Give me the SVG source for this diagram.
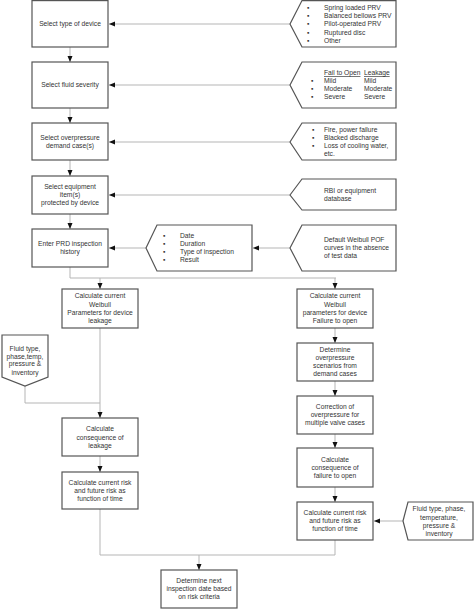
<svg xmlns="http://www.w3.org/2000/svg" width="474" height="610" viewBox="0 0 474 610">
<defs>
<style>
.box{fill:#fff;stroke:#555;stroke-width:1.2}
.ln{fill:none;stroke:#b5b5b5;stroke-width:1}
text{font-family:"Liberation Sans",Arial,sans-serif;font-size:6.7px;fill:#333}
.c{text-anchor:middle}
.u{text-decoration:underline}
</style>
<marker id="ah" viewBox="0 0 6 6" refX="6" refY="3" markerWidth="6" markerHeight="6" markerUnits="userSpaceOnUse" orient="auto">
<path d="M0,0.5 L6,3 L0,5.5 Z" fill="#111"/>
</marker>
</defs>
<rect width="474" height="610" fill="#fff"/>
<g id="connectors">
<path class="ln" d="M290,24 H109" marker-end="url(#ah)"/>
<path class="ln" d="M70,47 V62" marker-end="url(#ah)"/>
<path class="ln" d="M290,85 H109" marker-end="url(#ah)"/>
<path class="ln" d="M70,108 V123" marker-end="url(#ah)"/>
<path class="ln" d="M290,142 H109" marker-end="url(#ah)"/>
<path class="ln" d="M70,160 V176" marker-end="url(#ah)"/>
<path class="ln" d="M290,195 H109" marker-end="url(#ah)"/>
<path class="ln" d="M70,214 V229" marker-end="url(#ah)"/>
<path class="ln" d="M146,248 H109" marker-end="url(#ah)"/>
<path class="ln" d="M290,248 H253" marker-end="url(#ah)"/>
<path class="ln" d="M70,267 V278 H336"/>
<path class="ln" d="M100,278 V289" marker-end="url(#ah)"/>
<path class="ln" d="M335,278 V289" marker-end="url(#ah)"/>
<path class="ln" d="M100,328 V418" marker-end="url(#ah)"/>
<path class="ln" d="M25,386 V403 H100"/>
<path class="ln" d="M335,328 V343" marker-end="url(#ah)"/>
<path class="ln" d="M335,381 V396" marker-end="url(#ah)"/>
<path class="ln" d="M335,434 V448" marker-end="url(#ah)"/>
<path class="ln" d="M335,487 V502" marker-end="url(#ah)"/>
<path class="ln" d="M100,456 V472" marker-end="url(#ah)"/>
<path class="ln" d="M403,521 H374" marker-end="url(#ah)"/>
<path class="ln" d="M100,509 V555 H335 V540"/>
<path class="ln" d="M199,555 V570" marker-end="url(#ah)"/>
</g>
<g id="n1"><rect class="box" x="32" y="0.6" width="76" height="46.4"/>
<text class="c" x="70" y="26.4">Select type of device</text></g>
<g id="n2"><rect class="box" x="32" y="62" width="76" height="46"/>
<text class="c" x="70" y="87.4">Select fluid severity</text></g>
<g id="n3"><rect class="box" x="32" y="123" width="76" height="37"/>
<text class="c" x="70" y="140.1">Select overpressure</text><text class="c" x="70" y="148.4">demand case(s)</text></g>
<g id="n4"><rect class="box" x="32" y="176" width="76" height="38"/>
<text class="c" x="70" y="189.1">Select equipment</text><text class="c" x="70" y="197.1">item(s)</text><text class="c" x="70" y="205.1">protected by device</text></g>
<g id="n5"><rect class="box" x="32" y="229" width="76" height="38"/>
<text class="c" x="70" y="246.4">Enter PRD inspection</text><text class="c" x="70" y="254.4">history</text></g>
<g id="p1"><polygon class="box" points="290,24 302,0.6 396,0.6 396,47 302,47"/>
<text x="307" y="9.7">▪</text><text x="324" y="9.7">Spring loaded PRV</text>
<text x="307" y="18.1">▪</text><text x="324" y="18.1">Balanced bellows PRV</text>
<text x="307" y="26.4">▪</text><text x="324" y="26.4">Pilot-operated PRV</text>
<text x="307" y="34.5">▪</text><text x="324" y="34.5">Ruptured disc</text>
<text x="307" y="42.7">▪</text><text x="324" y="42.7">Other</text></g>
<g id="p2"><polygon class="box" points="290,85 302,62 396,62 396,108 302,108"/>
<text class="u" x="324" y="75.1">Fail to Open</text><text class="u" x="364" y="75.1">Leakage</text>
<text x="311" y="83.1">▪</text><text x="324" y="83.1">Mild</text><text x="364" y="83.1">Mild</text>
<text x="311" y="91.1">▪</text><text x="324" y="91.1">Moderate</text><text x="364" y="91.1">Moderate</text>
<text x="311" y="99.4">▪</text><text x="324" y="99.4">Severe</text><text x="364" y="99.4">Severe</text></g>
<g id="p3"><polygon class="box" points="290,142 302,123 396,123 396,160 302,160"/>
<text x="312" y="131.7">▪</text><text x="324" y="131.7">Fire, power failure</text>
<text x="312" y="140.1">▪</text><text x="324" y="140.1">Blacked discharge</text>
<text x="312" y="148.1">▪</text><text x="324" y="148.1">Loss of cooling water,</text>
<text x="324" y="156.4">etc.</text></g>
<g id="p4"><polygon class="box" points="290,195 302,179 396,179 396,210 302,210"/>
<text x="324" y="193.4">RBI or equipment</text><text x="324" y="201.4">database</text></g>
<g id="p5"><polygon class="box" points="146,248 157,225 252,225 252,271 157,271"/>
<text x="163" y="238.1">▪</text><text x="180" y="238.1">Date</text>
<text x="163" y="246.1">▪</text><text x="180" y="246.1">Duration</text>
<text x="163" y="254.1">▪</text><text x="180" y="254.1">Type of inspection</text>
<text x="163" y="262.1">▪</text><text x="180" y="262.1">Result</text></g>
<g id="p6"><polygon class="box" points="290,248 302,225 396,225 396,271 302,271"/>
<text x="324" y="242.1">Default Weibull POF</text><text x="324" y="250.4">curves in the absence</text><text x="324" y="258.4">of test data</text></g>
<g id="n6"><rect class="box" x="62" y="289" width="76" height="39"/>
<text class="c" x="100" y="298.4">Calculate current</text><text class="c" x="100" y="306.7">Weibull</text><text class="c" x="100" y="315.1">Parameters for device</text><text class="c" x="100" y="323.1">leakage</text></g>
<g id="n7"><rect class="box" x="297" y="289" width="76" height="39"/>
<text class="c" x="335" y="298.4">Calculate current</text><text class="c" x="335" y="306.7">Weibull</text><text class="c" x="335" y="315.1">parameters for device</text><text class="c" x="335" y="323.1">Failure to open</text></g>
<g id="p7"><polygon class="box" points="2,335 48,335 48,377 25,386 2,377"/>
<text class="c" x="25" y="350.7">Fluid type,</text><text class="c" x="25" y="358.7">phase,temp,</text><text class="c" x="25" y="366.4">pressure &amp;</text><text class="c" x="25" y="375.1">inventory</text></g>
<g id="n8"><rect class="box" x="297" y="343" width="76" height="38"/>
<text class="c" x="335" y="351.7">Determine</text><text class="c" x="335" y="360.1">overpressure</text><text class="c" x="335" y="368.1">scenarios from</text><text class="c" x="335" y="376.1">demand cases</text></g>
<g id="n9"><rect class="box" x="297" y="396" width="76" height="38"/>
<text class="c" x="335" y="409.1">Correction of</text><text class="c" x="335" y="417.1">overpressure for</text><text class="c" x="335" y="425.1">multiple valve cases</text></g>
<g id="n10"><rect class="box" x="62" y="418" width="76" height="38"/>
<text class="c" x="100" y="431.4">Calculate</text><text class="c" x="100" y="439.7">consequence of</text><text class="c" x="100" y="447.7">leakage</text></g>
<g id="n11"><rect class="box" x="297" y="448" width="76" height="39"/>
<text class="c" x="335" y="461.7">Calculate</text><text class="c" x="335" y="469.7">consequence of</text><text class="c" x="335" y="478.1">failure to open</text></g>
<g id="n12"><rect class="box" x="62" y="472" width="76" height="37"/>
<text class="c" x="100" y="484.7">Calculate current risk</text><text class="c" x="100" y="492.7">and future risk as</text><text class="c" x="100" y="500.7">function of time</text></g>
<g id="n13"><rect class="box" x="297" y="502" width="76" height="38"/>
<text class="c" x="335" y="515.1">Calculate current risk</text><text class="c" x="335" y="523.1">and future risk as</text><text class="c" x="335" y="531.1">function of time</text></g>
<g id="p8"><polygon class="box" points="403,521 408,502 473,502 473,540 408,540"/>
<text class="c" x="439" y="511.4">Fluid type, phase,</text><text class="c" x="439" y="519.7">temperature,</text><text class="c" x="439" y="527.7">pressure &amp;</text><text class="c" x="439" y="535.7">inventory</text></g>
<g id="n14"><rect class="box" x="161" y="570" width="76" height="38"/>
<text class="c" x="199" y="583.4">Determine next</text><text class="c" x="199" y="591.4">inspection date based</text><text class="c" x="199" y="599.4">on risk criteria</text></g>
</svg>
